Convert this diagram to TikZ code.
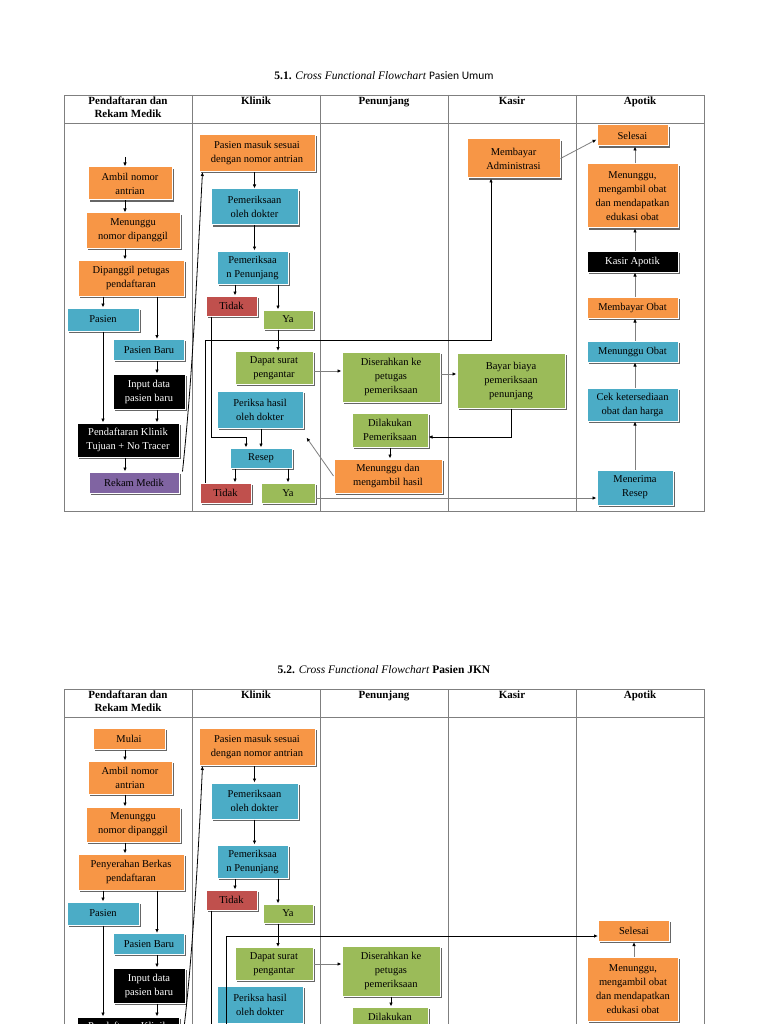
\documentclass[tikz,border=0pt]{standalone}
\usepackage{fontspec}
\setmainfont{Liberation Serif}
\newfontfamily\judulsans{Carlito}
\usetikzlibrary{arrows.meta,shadows}

\definecolor{oranye}{HTML}{F79646}
\definecolor{biru}{HTML}{4BACC6}
\definecolor{hijau}{HTML}{9BBB59}
\definecolor{merah}{HTML}{C0504D}
\definecolor{ungu}{HTML}{8064A2}
\definecolor{abu}{HTML}{7F7F7F}

\tikzset{
  kotak/.style={rectangle,align=center,inner sep=1pt,draw=white,line width=1pt,text=black,
    font=\fontsize{10.5}{14}\selectfont,
    drop shadow={shadow xshift=1.8pt,shadow yshift=-1.8pt,fill=black!60,opacity=1}},
  ukuran/.style 2 args={minimum width=#1pt,minimum height=#2pt},
  kotakoranye/.style={kotak,fill=oranye},
  kotakbiru/.style={kotak,fill=biru},
  kotakhijau/.style={kotak,fill=hijau},
  kotakmerah/.style={kotak,fill=merah},
  kotakungu/.style={kotak,fill=ungu},
  kotakhitam/.style={kotak,fill=black,text=white},
  kepala/.style={anchor=north,align=center,inner sep=0pt,font=\bfseries\fontsize{11}{13}\selectfont},
  tabel/.style={draw=abu,line width=0.8pt},
  panah/.style={draw=black,line width=0.8pt,-{Latex[length=4pt,width=3.5pt]}},
  panahabu/.style={draw=abu,line width=0.8pt,-{Latex[length=4pt,width=3.5pt,color=black]}},
  garis/.style={draw=black,line width=0.8pt}
}

\begin{document}
\begin{tikzpicture}[x=1pt,y=-1pt]
\useasboundingbox (0,0) rectangle (768,1024);
\fill[white] (0,0) rectangle (768,1024);
\clip (0,0) rectangle (768,1024);

\node[font=\fontsize{11.5}{13}\selectfont] (judul1) at (384,76) {\textbf{5.1.} \textit{Cross Functional Flowchart} {\judulsans Pasien Umum}};
\node[font=\fontsize{11.5}{13}\selectfont] (judul2) at (384,670) {\textbf{5.2.} \textit{Cross Functional Flowchart} \textbf{Pasien JKN}};

% tabel 5.1
\draw[tabel] (64,95) rectangle (704,511);
\draw[tabel] (64,123) -- (704,123);
\draw[tabel] (192,95) -- (192,511);
\draw[tabel] (320,95) -- (320,511);
\draw[tabel] (448,95) -- (448,511);
\draw[tabel] (576,95) -- (576,511);
\node[kepala] (hdaftar1) at (128,97) {Pendaftaran dan\\Rekam Medik};
\node[kepala] (hklinik1) at (256,97) {Klinik};
\node[kepala] (hpenunjang1) at (384,97) {Penunjang};
\node[kepala] (hkasir1) at (512,97) {Kasir};
\node[kepala] (hapotik1) at (640,97) {Apotik};

\coordinate (xa) at (125,0);
\coordinate (xb) at (157,0);
\coordinate (xc) at (235,0);
\coordinate (xd) at (278,0);
\coordinate (mulai1) at (125,157);

\node[kotakoranye,ukuran={84}{33}] (ambil1) at (130,183.5) {Ambil nomor\\antrian};
\node[kotakoranye,ukuran={94}{35}] (tunggu1) at (133,230.5) {Menunggu\\nomor dipanggil};
\node[kotakoranye,ukuran={106}{36}] (panggil1) at (131,278) {Dipanggil petugas\\pendaftaran};
\node[kotakbiru,ukuran={72}{23}] (pasien1) at (103,319.5) {Pasien};
\node[kotakbiru,ukuran={71}{21}] (baru1) at (149,350) {Pasien Baru};
\node[kotakhitam,ukuran={72}{35}] (input1) at (149,391.5) {Input data\\pasien baru};
\node[kotakhitam,ukuran={102}{34}] (daftar1) at (128,440) {Pendaftaran Klinik\\Tujuan + No Tracer};
\node[kotakungu,ukuran={90}{21}] (rekam1) at (134,482.5) {Rekam Medik};

\node[kotakoranye,ukuran={116}{37}] (masuk1) at (257,153) {Pasien masuk sesuai\\dengan nomor antrian};
\node[kotakbiru,ukuran={87}{36}] (dokter1) at (254.5,207) {Pemeriksaan\\oleh dokter};
\node[kotakbiru,ukuran={71}{33}] (penunjang1) at (252.5,267.5) {Pemeriksaa\\n Penunjang};
\node[kotakmerah,ukuran={51}{20}] (tidak1) at (231.5,306) {Tidak};
\node[kotakhijau,ukuran={50}{19}] (ya1) at (288,319.5) {Ya};
\node[kotakhijau,ukuran={78}{33}] (surat1) at (274,368) {Dapat surat\\pengantar};
\node[kotakbiru,ukuran={86}{37}] (hasil1) at (260,409.5) {Periksa hasil\\oleh dokter};
\node[kotakbiru,ukuran={62}{20}] (resep1) at (261,458) {Resep};
\node[kotakmerah,ukuran={51}{20}] (tidak2) at (225.5,493) {Tidak};
\node[kotakhijau,ukuran={54}{20}] (ya2) at (288,493) {Ya};

\node[kotakhijau,ukuran={98}{50}] (serah1) at (391,377) {Diserahkan ke\\petugas\\pemeriksaan};
\node[kotakhijau,ukuran={76}{34}] (lakukan1) at (390,430) {Dilakukan\\Pemeriksaan};
\node[kotakoranye,ukuran={108}{34}] (ambilhasil1) at (388,476) {Menunggu dan\\mengambil hasil};

\node[kotakoranye,ukuran={93}{39}] (admin1) at (513.5,158.5) {Membayar\\Administrasi};
\node[kotakhijau,ukuran={108}{55}] (bayar1) at (511,380.5) {Bayar biaya\\pemeriksaan\\penunjang};

\node[kotakoranye,ukuran={71}{21}] (selesai1) at (632.5,135.5) {Selesai};
\node[kotakoranye,ukuran={91}{64}] (edukasi1) at (632.5,196) {Menunggu,\\mengambil obat\\dan mendapatkan\\edukasi obat};
\node[kotakhitam,ukuran={91}{21}] (kasirapotik1) at (632.5,261.5) {Kasir Apotik};
\node[kotakoranye,ukuran={91}{21}] (bayarobat1) at (632.5,307.5) {Membayar Obat};
\node[kotakbiru,ukuran={91}{21}] (tungguobat1) at (632.5,351.5) {Menunggu Obat};
\node[kotakbiru,ukuran={91}{33}] (cek1) at (632.5,404.5) {Cek ketersediaan\\obat dan harga};
\node[kotakbiru,ukuran={76}{35}] (terima1) at (635,487.5) {Menerima\\Resep};

\draw[panah] (mulai1) -- (ambil1.north -| xa);
\draw[panah] (ambil1.south -| xa) -- (tunggu1.north -| xa);
\draw[panah] (tunggu1.south -| xa) -- (panggil1.north -| xa);
\draw[panah] (panggil1.south -| pasien1) -- (pasien1.north);
\draw[panah] (panggil1.south -| xb) -- (baru1.north -| xb);
\draw[panah] (baru1.south -| xb) -- (input1.north -| xb);
\draw[panah] (input1.south -| xb) -- (daftar1.north -| xb);
\draw[panah] (pasien1.south) -- (daftar1.north -| pasien1);
\draw[panah] (daftar1.south -| xa) -- (rekam1.north -| xa);
\draw[panah] ([xshift=3pt]rekam1.north east) .. controls (192,380) and (195,310) .. ([xshift=4pt]masuk1.south west);

\draw[panah] (masuk1.south -| dokter1) -- (dokter1.north);
\draw[panah] (dokter1.south) -- (penunjang1.north -| dokter1);
\draw[panah] (penunjang1.south -| xc) -- (tidak1.north -| xc);
\draw[panah] (penunjang1.south -| xd) -- (ya1.north -| xd);
\draw[panah] (ya1.south -| xd) -- (surat1.north -| xd);
\draw[panah] ([xshift=-20.5pt]tidak1.south) -- ++(0,121) -| ([xshift=-15pt]resep1.north);
\draw[panah] (hasil1.south -| resep1) -- (resep1.north);
\draw[panah] (resep1.south -| xc) -- (tidak2.north -| xc);
\draw[panah] (resep1.south -| ya2) -- (ya2.north);
\draw[panah] ([xshift=-20.5pt]tidak2.north) -- ++(0,-142) -| ([xshift=-22.5pt]admin1.south);
\draw[panahabu] ([yshift=-5pt]ya2.east) -- ([yshift=-5pt]ya2.east -| terima1.west);

\draw[panahabu] ([yshift=-3pt]surat1.east) -- ([yshift=-3pt]surat1.east -| serah1.west);
\draw[panahabu] ([yshift=3pt]serah1.east) -- ([yshift=3pt]serah1.east -| bayar1.west);
\draw[panah] (bayar1.south) |- ([yshift=-7pt]lakukan1.east);
\draw[panah] (lakukan1.south) -- (ambilhasil1.north -| lakukan1.south);
\draw[panahabu] (ambilhasil1.west) -- ([shift={(3pt,-9pt)}]hasil1.south east);

\draw[panahabu] (admin1.east) -- ([yshift=-4pt]selesai1.west);
\draw[panahabu] (terima1.north) -- (cek1.south -| terima1);
\draw[panahabu] (cek1.north -| terima1) -- (tungguobat1.south -| terima1);
\draw[panahabu] (tungguobat1.north -| terima1) -- (bayarobat1.south -| terima1);
\draw[panahabu] (bayarobat1.north -| terima1) -- (kasirapotik1.south -| terima1);
\draw[panahabu] (kasirapotik1.north -| terima1) -- (edukasi1.south -| terima1);
\draw[panahabu] (edukasi1.north -| terima1) -- (selesai1.south -| terima1);

% tabel 5.2
\begin{scope}[shift={(0,594)}]
\draw[tabel] (64,95) rectangle (704,511);
\draw[tabel] (64,123) -- (704,123);
\draw[tabel] (192,95) -- (192,511);
\draw[tabel] (320,95) -- (320,511);
\draw[tabel] (448,95) -- (448,511);
\draw[tabel] (576,95) -- (576,511);
\node[kepala] (hdaftar2) at (128,97) {Pendaftaran dan\\Rekam Medik};
\node[kepala] (hklinik2) at (256,97) {Klinik};
\node[kepala] (hpenunjang2) at (384,97) {Penunjang};
\node[kepala] (hkasir2) at (512,97) {Kasir};
\node[kepala] (hapotik2) at (640,97) {Apotik};

\coordinate (ujung1) at (182,450);
\coordinate (ujung2) at (211,450);
\coordinate (ujung3) at (226,450);

\node[kotakoranye,ukuran={72}{21}] (mulai2) at (129,144.5) {Mulai};
\node[kotakoranye,ukuran={84}{33}] (ambil2) at (130,183.5) {Ambil nomor\\antrian};
\node[kotakoranye,ukuran={94}{35}] (tunggu2) at (133,230.5) {Menunggu\\nomor dipanggil};
\node[kotakoranye,ukuran={106}{36}] (berkas2) at (131,278) {Penyerahan Berkas\\pendaftaran};
\node[kotakbiru,ukuran={72}{23}] (pasien2) at (103,319.5) {Pasien};
\node[kotakbiru,ukuran={71}{21}] (baru2) at (149,350) {Pasien Baru};
\node[kotakhitam,ukuran={72}{35}] (input2) at (149,391.5) {Input data\\pasien baru};
\node[kotakhitam,ukuran={102}{34}] (daftar2) at (128,440) {Pendaftaran Klinik\\Tujuan + No Tracer};

\node[kotakoranye,ukuran={116}{37}] (masuk2) at (257,153) {Pasien masuk sesuai\\dengan nomor antrian};
\node[kotakbiru,ukuran={87}{36}] (dokter2) at (254.5,207) {Pemeriksaan\\oleh dokter};
\node[kotakbiru,ukuran={71}{33}] (penunjang2) at (252.5,267.5) {Pemeriksaa\\n Penunjang};
\node[kotakmerah,ukuran={51}{20}] (tidak3) at (231.5,306) {Tidak};
\node[kotakhijau,ukuran={50}{19}] (ya3) at (288,319.5) {Ya};
\node[kotakhijau,ukuran={78}{33}] (surat2) at (274,370) {Dapat surat\\pengantar};
\node[kotakbiru,ukuran={86}{37}] (hasil2) at (260,410.5) {Periksa hasil\\oleh dokter};

\node[kotakhijau,ukuran={98}{50}] (serah2) at (391,377) {Diserahkan ke\\petugas\\pemeriksaan};
\node[kotakhijau,ukuran={76}{34}] (lakukan2) at (390,430) {Dilakukan\\Pemeriksaan};

\node[kotakoranye,ukuran={71}{21}] (selesai2) at (634,337) {Selesai};
\node[kotakoranye,ukuran={91}{64}] (edukasi2) at (633,395) {Menunggu,\\mengambil obat\\dan mendapatkan\\edukasi obat};

\draw[panah] (mulai2.south -| xa) -- (ambil2.north -| xa);
\draw[panah] (ambil2.south -| xa) -- (tunggu2.north -| xa);
\draw[panah] (tunggu2.south -| xa) -- (berkas2.north -| xa);
\draw[panah] (berkas2.south -| pasien2) -- (pasien2.north);
\draw[panah] (berkas2.south -| xb) -- (baru2.north -| xb);
\draw[panah] (baru2.south -| xb) -- (input2.north -| xb);
\draw[panah] (input2.south -| xb) -- (daftar2.north -| xb);
\draw[panah] (pasien2.south) -- (daftar2.north -| pasien2);
\draw[panah] (ujung1) .. controls (190,390) and (197,290) .. ([xshift=4pt]masuk2.south west);

\draw[panah] (masuk2.south -| dokter2) -- (dokter2.north);
\draw[panah] (dokter2.south) -- (penunjang2.north -| dokter2);
\draw[panah] (penunjang2.south -| xc) -- (tidak3.north -| xc);
\draw[panah] (penunjang2.south -| xd) -- (ya3.north -| xd);
\draw[panah] (ya3.south -| xd) -- (surat2.north -| xd);
\draw[garis] ([xshift=-20.5pt]tidak3.south) -- (ujung2);
\draw[panah] (ujung3) |- ([yshift=-5pt]selesai2.west);
\draw[panahabu] (surat2.east) -- (surat2.east -| serah2.west);
\draw[panah] (serah2.south) -- (lakukan2.north -| serah2.south);
\draw[panahabu] (edukasi2.north -| selesai2) -- (selesai2.south);
\end{scope}
\end{tikzpicture}
\end{document}
